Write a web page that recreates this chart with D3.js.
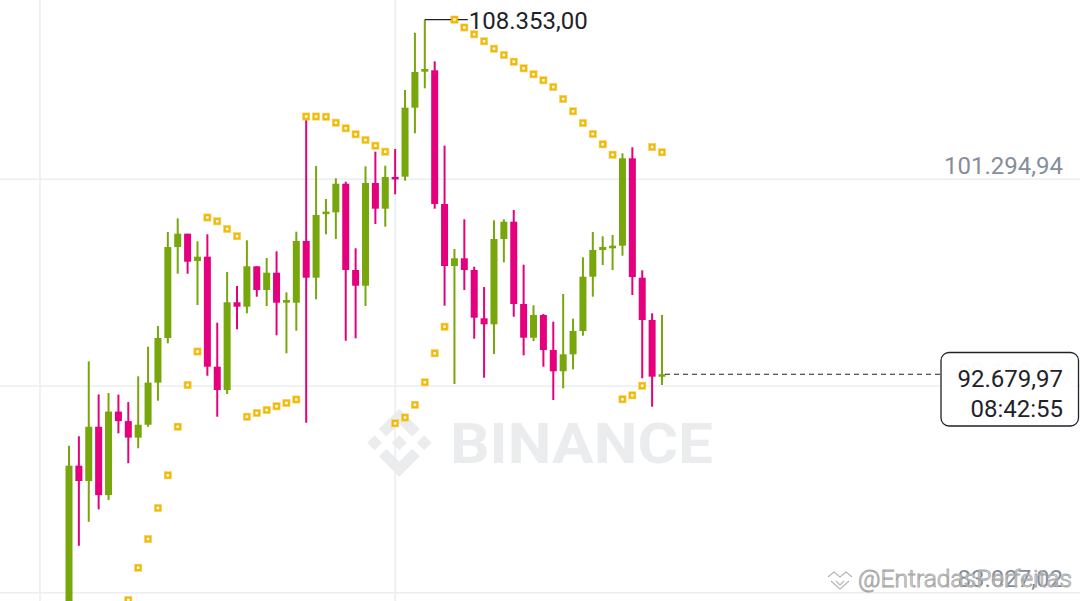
<!DOCTYPE html>
<html>
<head>
<meta charset="utf-8">
<script src="https://cdn.jsdelivr.net/npm/d3@7"></script>
<style>
  html, body { margin: 0; padding: 0; background: #ffffff; }
  svg { display: block; }
</style>
</head>
<body>
<svg id="chart" width="1080" height="601"></svg>
<script>
// ---------- DATA ----------
const opens  = [80940, 88640, 87960, 90360, 87340, 91030, 90610, 89880, 90450, 92310,
                94282, 98303, 98891, 97685, 97875, 93014, 91984, 95860, 95665, 97450,
                96403, 97167, 95842, 95842, 98568, 96946, 99761, 99836, 101100, 97287,
                96593, 101131, 99996, 101396, 101410, 104459, 106050, 106111, 100203, 97464,
                97804, 97287, 95152, 94887, 98657, 99421, 95784, 94295, 95298, 93752,
                92811, 93562, 94591, 96991, 98171, 98246, 98361, 102223, 96946, 95077,
                92572];
const highs  = [89520, 89940, 93250, 91790, 91850, 91780, 91450, 92589, 93897, 94812,
                98966, 99571, 98891, 98555, 98864, 94958, 97199, 96580, 98599, 97450,
                97817, 98113, 96301, 98979, 104061, 101882, 100424, 101339, 101189, 98246,
                101869, 102515, 101896, 102634, 105241, 107773, 108353, 106509, 102780, 98215,
                99527, 97433, 96535, 99483, 99527, 99938, 97521, 95727, 95342, 95002,
                96226, 95135, 97848, 98966, 98776, 98833, 102444, 102709, 97274, 95373,
                95298];
const lows   = [80050, 85100, 86160, 86710, 87120, 90070, 88750, 89410, 90360, 91511,
                94047, 97123, 97123, 95740, 92616, 90804, 91807, 94666, 95373, 96107,
                95696, 94401, 93606, 94604, 90539, 95992, 98864, 98657, 94162, 94268,
                95696, 99320, 99200, 100632, 101233, 103328, 105316, 99996, 95709, 92249,
                96403, 94251, 92528, 93575, 97627, 95223, 93517, 94149, 93014, 91542,
                92059, 92899, 94383, 96107, 97508, 97287, 97919, 96182, 92501, 91246,
                92205];
const closes = [88640, 87960, 90360, 87340, 91030, 90610, 89880, 90450, 92310, 94282,
                98303, 98891, 97654, 97875, 93014, 91984, 95860, 95665, 97450, 96403,
                97167, 95842, 95961, 98568, 96946, 99717, 99863, 101100, 97287, 96593,
                101131, 99996, 101396, 101295, 104459, 106036, 106169, 100203, 97464, 97804,
                97287, 95179, 94887, 98657, 99421, 95784, 94295, 95298, 93752, 92811,
                93562, 94591, 96991, 98171, 98303, 98361, 102223, 96977, 95077, 92572,
                92679.97];
// Parabolic SAR dots (null = off the visible area)
const sar    = [null, null, null, null, null, null, 82704, 84131, 85400, 86770,
                88215, 90362, 92205, 93685, 99607, 99439, 99099, 98780, 90804, 90968,
                91100, 91264, 91410, 91564, 104070, 104070, 104061, 103796, 103548, 103283,
                103032, 102780, 102515, 90512, 90769, 91330, 92324, 93606, 94782, 108353,
                108003, 107702, 107393, 107066, 106788, 106492, 106200, 105935, 105670, 105374,
                104843, 104300, 103783, 103297, 102841, 102382, 91573, 91749, 92174, 102722,
                102488];
const priceTicks = [83027.02, 92160.99, 101294.94];
const timeGridIdx = [-2.94, 33];
const maxPrice = 108353.00;
const maxIndex = 36;
const lastPrice = 92679.97;
const countdown = "08:42:55";
const watermarkText = "BINANCE";
const userTag = "@EntradasPerfeitas";

// ---------- SETUP ----------
const W = 1080, H = 601;
const svg = d3.select("#chart");
const GREEN = "#77a70c", PINK = "#e5007d", DOT = "#f0b90b";
const TEXT_DARK = "#1e2329", TEXT_GRAY = "#848e9c", GRID = "#eceef1";
const FONT = "Roboto, 'Noto Sans', sans-serif";

const loc = d3.formatLocale({decimal: ",", thousands: ".", grouping: [3], currency: ["", ""]});
const fmt = loc.format(",.2f");

const x = d3.scaleLinear().domain([0, opens.length - 1]).range([69, 662]);
const y = d3.scaleLinear().domain([83027.02, 101294.94]).range([592.7, 179.3]);

const data = opens.map((o, i) => ({i, o, h: highs[i], l: lows[i], c: closes[i], s: sar[i]}));

// ---------- GRID ----------
svg.append("g").selectAll("line.h").data(priceTicks).join("line")
  .attr("x1", 0).attr("x2", W)
  .attr("y1", d => y(d)).attr("y2", d => y(d))
  .attr("stroke", GRID).attr("stroke-width", 1.6);
svg.append("g").selectAll("line.v").data(timeGridIdx).join("line")
  .attr("x1", d => x(d)).attr("x2", d => x(d))
  .attr("y1", 0).attr("y2", H)
  .attr("stroke", GRID).attr("stroke-width", 1.6);

// ---------- WATERMARK ----------
const wm = svg.append("g").attr("fill", "#eaecee");
const lc = {x: 399.3, y: 442.7, r: 34};
function P(pts) { return "M" + pts.map(p => [lc.x + p[0]*lc.r, lc.y + p[1]*lc.r].join(",")).join("L") + "Z"; }
wm.append("path").attr("d", P([[0,-0.22],[0.22,0],[0,0.22],[-0.22,0]]));
wm.append("path").attr("d", P([[-0.95,0],[-0.73,-0.22],[-0.51,0],[-0.73,0.22]]));
wm.append("path").attr("d", P([[0.95,0],[0.73,-0.22],[0.51,0],[0.73,0.22]]));
wm.append("path").attr("d", P([[0,-1],[0.6,-0.4],[0.38,-0.18],[0,-0.56],[-0.38,-0.18],[-0.6,-0.4]]));
wm.append("path").attr("d", P([[0,1],[0.6,0.4],[0.38,0.18],[0,0.56],[-0.38,0.18],[-0.6,0.4]]));
wm.append("text").attr("x", 450).attr("y", 463)
  .attr("font-family", FONT).attr("font-weight", 700).attr("font-size", 56)
  .attr("textLength", 263).attr("lengthAdjust", "spacingAndGlyphs")
  .text(watermarkText);

// ---------- PRICE LABELS ----------
svg.append("g").selectAll("text").data(priceTicks).join("text")
  .attr("x", 1063).attr("y", d => y(d) - 5.5)
  .attr("text-anchor", "end")
  .attr("font-family", FONT).attr("font-size", 24)
  .attr("fill", TEXT_GRAY).attr("fill-opacity", (d, i) => i === 1 ? 0.35 : 1)
  .text(d => fmt(d));

// ---------- CANDLES ----------
const bw = 7;
const cg = svg.append("g");
const candle = cg.selectAll("g").data(data).join("g");
candle.append("line")
  .attr("x1", d => x(d.i)).attr("x2", d => x(d.i))
  .attr("y1", d => y(d.h)).attr("y2", d => y(d.l))
  .attr("stroke", d => d.c >= d.o ? GREEN : PINK).attr("stroke-width", 2);
candle.append("rect")
  .attr("x", d => x(d.i) - bw/2)
  .attr("y", d => Math.min(y(d.o), y(d.c)) - (Math.abs(y(d.o) - y(d.c)) < 2.5 ? 1.25 - Math.abs(y(d.o) - y(d.c))/2 : 0))
  .attr("width", bw)
  .attr("height", d => Math.max(2.5, Math.abs(y(d.o) - y(d.c))))
  .attr("fill", d => d.c >= d.o ? GREEN : PINK);

// ---------- SAR DOTS ----------
const dg = svg.append("g");
const dots = dg.selectAll("g").data(data.filter(d => d.s != null)).join("g")
  .attr("transform", d => `translate(${x(d.i)},${y(d.s)})`);
dots.append("rect").attr("x", -3.6).attr("y", -3.6).attr("width", 7.2).attr("height", 7.2)
  .attr("fill", DOT).attr("stroke", "#f6d25a").attr("stroke-width", 0.6);
dots.append("rect").attr("x", -1.3).attr("y", -1.3).attr("width", 2.6).attr("height", 2.6)
  .attr("fill", "#fffbe8");

// ---------- MAX LABEL ----------
svg.append("line")
  .attr("x1", x(maxIndex)).attr("x2", x(maxIndex) + 43)
  .attr("y1", y(maxPrice)).attr("y2", y(maxPrice))
  .attr("stroke", TEXT_DARK).attr("stroke-width", 1.3);
// redraw the SAR dot sitting on the max line
svg.append("rect").attr("x", x(maxIndex + 3) - 3.6).attr("y", y(sar[maxIndex + 3]) - 3.6)
  .attr("width", 7.2).attr("height", 7.2).attr("fill", DOT);
svg.append("rect").attr("x", x(maxIndex + 3) - 1.3).attr("y", y(sar[maxIndex + 3]) - 1.3)
  .attr("width", 2.6).attr("height", 2.6).attr("fill", "#fffbe8");
svg.append("text").attr("x", x(maxIndex) + 44).attr("y", y(maxPrice) + 9.3)
  .attr("font-family", FONT).attr("font-size", 24).attr("fill", TEXT_DARK)
  .text(fmt(maxPrice));

// ---------- LAST PRICE ----------
const yl = y(lastPrice);
svg.append("line")
  .attr("x1", x(opens.length - 1) + 3).attr("x2", 941)
  .attr("y1", yl).attr("y2", yl)
  .attr("stroke", TEXT_DARK).attr("stroke-width", 1.2).attr("stroke-dasharray", "5,4");
svg.append("rect").attr("x", 941).attr("y", 352.5).attr("width", 137.5).attr("height", 73.5)
  .attr("rx", 8).attr("ry", 8)
  .attr("fill", "#ffffff").attr("fill-opacity", 0.88)
  .attr("stroke", TEXT_DARK).attr("stroke-width", 1.3);
svg.append("text").attr("x", 1063).attr("y", 386.5).attr("text-anchor", "end")
  .attr("font-family", FONT).attr("font-size", 24).attr("fill", TEXT_DARK)
  .text(fmt(lastPrice));
svg.append("text").attr("x", 1063).attr("y", 417.3).attr("text-anchor", "end")
  .attr("font-family", FONT).attr("font-size", 24).attr("fill", TEXT_DARK)
  .text(countdown);

// ---------- USER TAG WATERMARK ----------
const tg = svg.append("g").attr("fill", "none").attr("stroke", "#b5b5b5").attr("stroke-width", 1.1);
tg.append("path").attr("d", "M828,577 L834,572 L840,577 L846,572 L852,577");
tg.append("path").attr("d", "M831,581 L840,589 L849,581");
tg.append("path").attr("d", "M836,581 L840,585 L844,581");
svg.append("text").attr("x", 858).attr("y", 587)
  .attr("font-family", FONT).attr("font-weight", 300).attr("font-size", 23)
  .attr("textLength", 214).attr("lengthAdjust", "spacingAndGlyphs")
  .attr("fill", "#ffffff").attr("fill-opacity", 0.7)
  .attr("stroke", "#a8a8a8").attr("stroke-width", 0.9)
  .text(userTag);
</script>
</body>
</html>
